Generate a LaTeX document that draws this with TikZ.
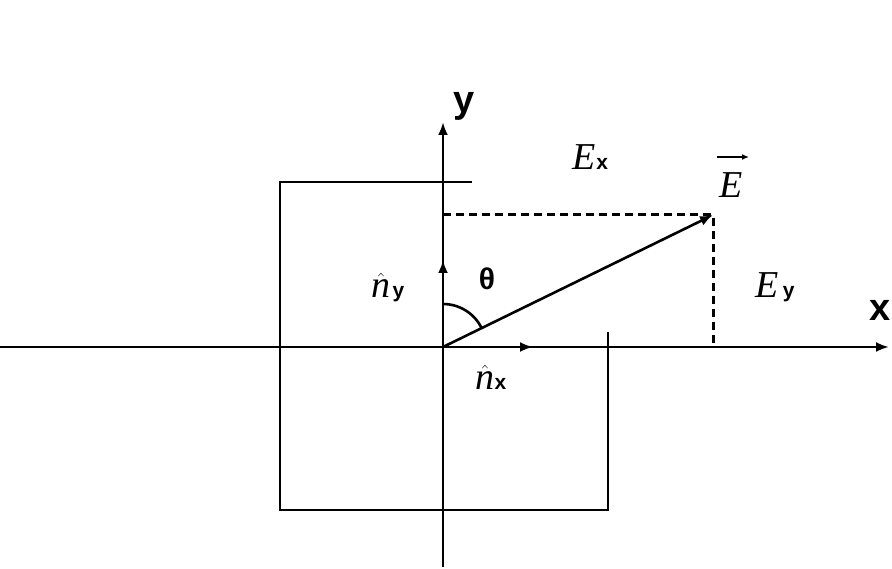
\documentclass[tikz,border=0pt]{standalone}
\usepackage{fontspec}
\setmainfont{Liberation Serif}
\newfontfamily\lsans{Liberation Sans}
\newcommand\subsf[1]{{\normalfont\lsans\bfseries\fontsize{21}{23}\selectfont #1}}
\usetikzlibrary{arrows.meta}
\begin{document}
\begin{tikzpicture}[x=1pt,y=-1pt,
  ln/.style={line width=2.6pt},
  ax/.style={ln,-{Latex[length=13pt,width=10pt]}},
  dsh/.style={line width=3pt,dash pattern=on 8pt off 5pt},
  bl/.style={font=\lsans\bfseries\fontsize{38}{40}\selectfont},
  it/.style={font=\itshape\fontsize{38}{40}\selectfont}]
\useasboundingbox (0,0) rectangle (892,569);
\coordinate (O) at (443,347);
\coordinate (xs) at (0,347); \coordinate (xe) at (889,347);
\coordinate (ys) at (443,567); \coordinate (ye) at (443,122);
\coordinate (E) at (713,215); \coordinate (Ey0) at (443,215); \coordinate (Ex0) at (713,347);
\draw[ax] (xs) -- (xe);
\draw[ax] (ys) -- (ye);
\draw[ln] (472,182) -- (280,182) -- (280,510) -- (608,510) -- (608,332);
\draw[dsh] (Ey0) -- (E) -- (Ex0);
\draw[ax] (O) -- (E);
\draw[ax] (O) -- (443,260);
\draw[ax] (O) -- (533,347);
\draw[ln] (443,304) arc[start angle=-90,end angle=-26,radius=43];
\node[bl] (ly) at (464,106) {y};
\node[bl] (lx) at (880,310) {x};
\node[font=\lsans\bfseries\fontsize{30}{32}\selectfont] (th) at (487,279) {θ};
\node[it,anchor=base] (lEx) at (590,170) {E\kern1pt\subsf{x}};
\node[it,anchor=base] (lEy) at (775,298) {E\kern4pt\subsf{y}};
\node[it,anchor=base] (lE) at (731,198) {E};
\draw[line width=1.4pt,-{Latex[length=7pt,width=6pt]}] (717,157) -- (749,157);
\node[it,anchor=base] (lny) at (388,298) {$\hat{\mbox{\itshape n}}$\kern2pt\subsf{y}};
\node[it,anchor=base] (lnx) at (491,390) {$\hat{\mbox{\itshape n}}$\subsf{x}};
\end{tikzpicture}
\end{document}
